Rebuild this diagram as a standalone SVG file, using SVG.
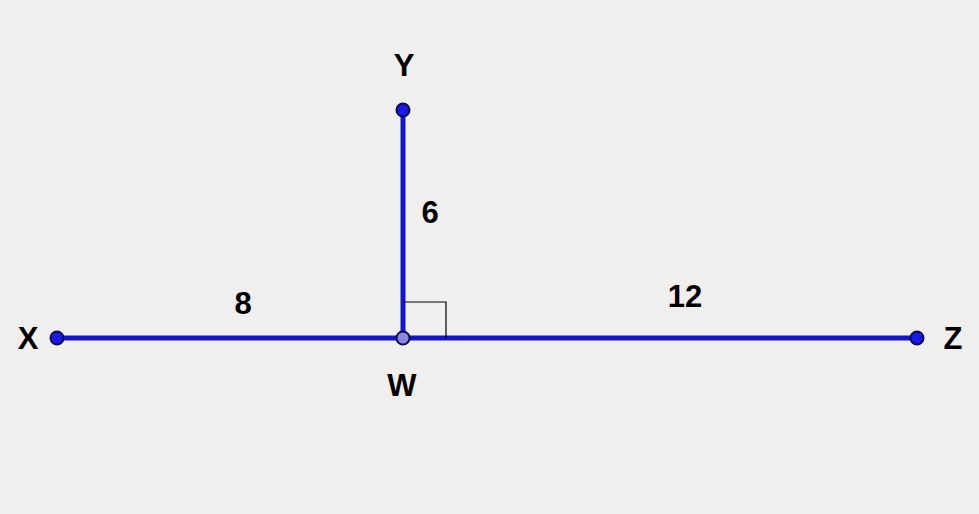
<svg xmlns="http://www.w3.org/2000/svg" width="979" height="514" viewBox="0 0 979 514">
<style>
.seg{stroke:#1414c8;stroke-width:5;stroke-linecap:butt;fill:none}
.pt{fill:#1a1ae6;stroke:#0a0a50;stroke-width:2}
.ptw{fill:#8a88e0;stroke:#0a0a50;stroke-width:2}
.lbl{font-family:"Liberation Sans",Arial,sans-serif;font-weight:bold;font-size:31px;fill:#000;text-anchor:middle}
</style>
<rect width="979" height="514" fill="#f0efee"/>
<g id="connectors">
<line class="seg" x1="57" y1="338" x2="917" y2="338"/>
<line class="seg" x1="403" y1="110" x2="403" y2="338"/>
<polyline points="403,302 446,302 446,338" fill="none" stroke="#000" stroke-width="1.2"/>
</g>
<g id="X"><circle class="pt" cx="57" cy="338" r="6.5"/><text class="lbl" x="28" y="349">X</text></g>
<g id="Y"><circle class="pt" cx="403" cy="110" r="6.5"/><text class="lbl" x="404" y="76">Y</text></g>
<g id="Z"><circle class="pt" cx="917" cy="338" r="6.5"/><text class="lbl" x="953" y="349">Z</text></g>
<g id="W"><circle class="ptw" cx="403" cy="338" r="6.5"/><text class="lbl" x="402" y="396">W</text></g>
<g id="labels">
<text class="lbl" x="430" y="223">6</text>
<text class="lbl" x="243" y="314">8</text>
<text class="lbl" x="685" y="307">12</text>
</g>
</svg>
